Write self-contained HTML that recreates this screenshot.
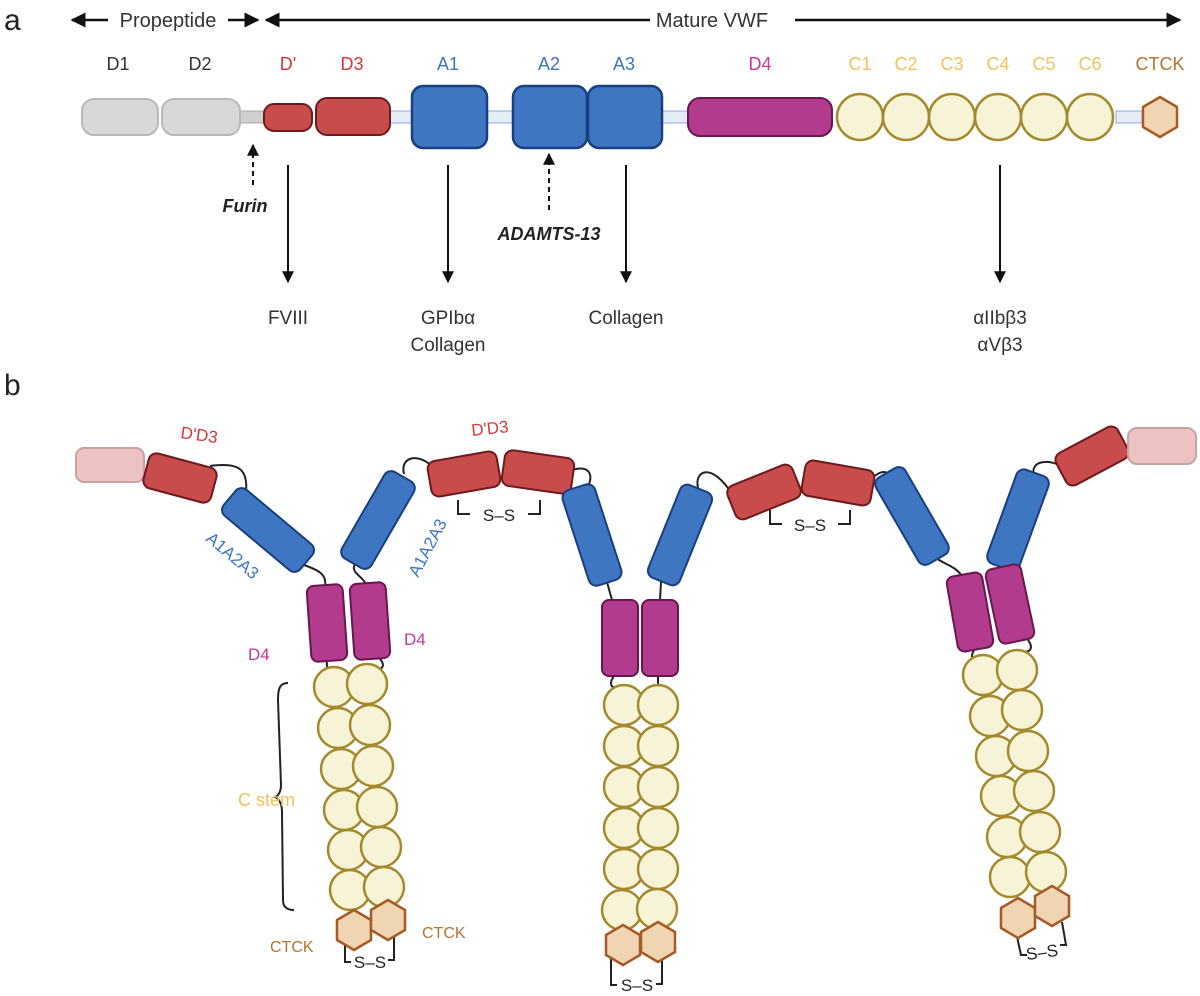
<!DOCTYPE html>
<html><head><meta charset="utf-8"><style>
html,body{margin:0;padding:0;background:#fff}
svg{display:block}
text{font-family:"Liberation Sans",sans-serif}
</style></head><body>
<svg width="1200" height="996" viewBox="0 0 1200 996" xmlns="http://www.w3.org/2000/svg">
<defs>
<marker id="ah" viewBox="0 0 10 10" refX="9" refY="5" markerWidth="6" markerHeight="6" orient="auto-start-reverse"><path d="M0,0L10,5L0,10z" fill="#111"/></marker>
<g id="circ"><circle r="20" fill="#f6f3d6" stroke="#a48a2c" stroke-width="2.5"/></g>
<g id="hex"><polygon points="0,-20 17,-10 17,10 0,20 -17,10 -17,-10" fill="#f0d5b3" stroke="#a85a24" stroke-width="2.5"/></g>
<g id="red"><rect x="-35" y="-18" width="70" height="36" rx="8" fill="#c94c4c" stroke="#6e1a1a" stroke-width="2"/></g>
<g id="blue"><rect x="-50" y="-17" width="100" height="34" rx="8" fill="#3e76c2" stroke="#183f80" stroke-width="2"/></g>
<g id="pur"><rect x="-18" y="-38" width="36" height="76" rx="7" fill="#b33b8e" stroke="#6a1650" stroke-width="2"/></g>
</defs>

<text x="4" y="30" font-size="30" fill="#222">a</text>
<line x1="108" y1="20" x2="72" y2="20" stroke="#111" stroke-width="2.5" marker-end="url(#ah)"/>
<text x="168" y="27" font-size="20" fill="#333" text-anchor="middle">Propeptide</text>
<line x1="228" y1="20" x2="258" y2="20" stroke="#111" stroke-width="2.5" marker-end="url(#ah)"/>
<line x1="650" y1="20" x2="266" y2="20" stroke="#111" stroke-width="2.5" marker-end="url(#ah)"/>
<text x="712" y="27" font-size="20" fill="#333" text-anchor="middle">Mature VWF</text>
<line x1="795" y1="20" x2="1180" y2="20" stroke="#111" stroke-width="2.5" marker-end="url(#ah)"/>

<g font-size="18" text-anchor="middle">
<text x="118" y="70" fill="#333">D1</text><text x="200" y="70" fill="#333">D2</text>
<text x="288" y="70" fill="#d23a3a">D'</text><text x="352" y="70" fill="#d23a3a">D3</text>
<text x="448" y="70" fill="#3d75c4">A1</text><text x="549" y="70" fill="#3d75c4">A2</text><text x="624" y="70" fill="#3d75c4">A3</text>
<text x="760" y="70" fill="#c23b9a">D4</text>
<text x="860" y="70" fill="#f0c35c">C1</text><text x="906" y="70" fill="#f0c35c">C2</text><text x="952" y="70" fill="#f0c35c">C3</text><text x="998" y="70" fill="#f0c35c">C4</text><text x="1044" y="70" fill="#f0c35c">C5</text><text x="1090" y="70" fill="#f0c35c">C6</text>
<text x="1160" y="70" fill="#b8722e">CTCK</text>
</g>

<rect x="238" y="111" width="28" height="12" fill="#cfcfcf" stroke="#aaa"/>
<rect x="388" y="111" width="26" height="12" fill="#e4ecf8" stroke="#8ea8d8"/>
<rect x="485" y="111" width="30" height="12" fill="#e4ecf8" stroke="#8ea8d8"/>
<rect x="660" y="111" width="30" height="12" fill="#e4ecf8" stroke="#8ea8d8"/>
<rect x="1116" y="111" width="26" height="12" fill="#e4ecf8" stroke="#8ea8d8"/>
<rect x="82" y="99" width="76" height="36" rx="12" fill="#d8d8d8" stroke="#b8b8b8" stroke-width="2"/>
<rect x="162" y="99" width="78" height="36" rx="12" fill="#d8d8d8" stroke="#b8b8b8" stroke-width="2"/>
<rect x="264" y="104" width="48" height="27" rx="10" fill="#c94c4c" stroke="#6e1a1a" stroke-width="2"/>
<rect x="316" y="98" width="74" height="37" rx="11" fill="#c94c4c" stroke="#6e1a1a" stroke-width="2"/>
<rect x="412" y="86" width="75" height="62" rx="11" fill="#3e76c2" stroke="#183f80" stroke-width="2.5"/>
<rect x="513" y="86" width="74" height="62" rx="11" fill="#3e76c2" stroke="#183f80" stroke-width="2.5"/>
<rect x="588" y="86" width="74" height="62" rx="11" fill="#3e76c2" stroke="#183f80" stroke-width="2.5"/>
<rect x="688" y="98" width="144" height="38" rx="12" fill="#b33b8e" stroke="#6a1650" stroke-width="2"/>
<circle cx="860" cy="117" r="23" fill="#f6f3d6" stroke="#a48a2c" stroke-width="2.5"/>
<circle cx="906" cy="117" r="23" fill="#f6f3d6" stroke="#a48a2c" stroke-width="2.5"/>
<circle cx="952" cy="117" r="23" fill="#f6f3d6" stroke="#a48a2c" stroke-width="2.5"/>
<circle cx="998" cy="117" r="23" fill="#f6f3d6" stroke="#a48a2c" stroke-width="2.5"/>
<circle cx="1044" cy="117" r="23" fill="#f6f3d6" stroke="#a48a2c" stroke-width="2.5"/>
<circle cx="1090" cy="117" r="23" fill="#f6f3d6" stroke="#a48a2c" stroke-width="2.5"/>
<use href="#hex" x="1160" y="117"/>

<line x1="253" y1="185" x2="253" y2="145" stroke="#111" stroke-width="2" stroke-dasharray="5,4" marker-end="url(#ah)"/>
<text x="245" y="212" font-size="18" font-weight="bold" font-style="italic" fill="#222" text-anchor="middle">Furin</text>
<line x1="288" y1="165" x2="288" y2="282" stroke="#111" stroke-width="2" marker-end="url(#ah)"/>
<text x="288" y="324" font-size="19" fill="#333" text-anchor="middle">FVIII</text>
<line x1="448" y1="165" x2="448" y2="282" stroke="#111" stroke-width="2" marker-end="url(#ah)"/>
<text x="448" y="324" font-size="19" fill="#333" text-anchor="middle">GPIbα</text>
<text x="448" y="351" font-size="19" fill="#333" text-anchor="middle">Collagen</text>
<line x1="549" y1="210" x2="549" y2="154" stroke="#111" stroke-width="2" stroke-dasharray="5,4" marker-end="url(#ah)"/>
<text x="549" y="240" font-size="18" font-weight="bold" font-style="italic" fill="#222" text-anchor="middle">ADAMTS-13</text>
<line x1="626" y1="165" x2="626" y2="282" stroke="#111" stroke-width="2" marker-end="url(#ah)"/>
<text x="626" y="324" font-size="19" fill="#333" text-anchor="middle">Collagen</text>
<line x1="1000" y1="165" x2="1000" y2="282" stroke="#111" stroke-width="2" marker-end="url(#ah)"/>
<text x="1000" y="324" font-size="19" fill="#333" text-anchor="middle">αIIbβ3</text>
<text x="1000" y="351" font-size="19" fill="#333" text-anchor="middle">αVβ3</text>

<text x="4" y="395" font-size="30" fill="#222">b</text>
<g fill="none" stroke="#222" stroke-width="2">
<path d="M210,466 C240,462 248,470 246,492"/>
<path d="M304,565 C318,570 327,574 325,586"/>
<path d="M355,564 C350,572 362,576 366,584"/>
<path d="M404,474 C400,458 416,452 432,466"/>
<path d="M572,470 C592,464 594,478 586,490"/>
<path d="M698,488 C694,470 712,462 732,494"/>
<path d="M872,478 C884,468 890,472 888,480"/>
<path d="M1034,476 C1030,462 1045,458 1062,466"/>
<path d="M607,582 L612,600"/><path d="M661,582 L660,600"/>
<path d="M936,558 C946,565 955,566 962,576"/>
<path d="M1002,560 C998,566 1000,570 1003,568"/>
<path d="M327,660 C326,672 330,676 334,668"/>
<path d="M380,659 C388,668 378,672 370,668"/>
<path d="M614,676 C608,684 612,690 618,686"/><path d="M658,676 L658,686"/>
<path d="M974,650 C970,658 972,660 978,657"/><path d="M1028,640 C1034,648 1030,652 1024,652"/>
<path d="M458,500 L458,514 L470,514"/><path d="M540,500 L540,514 L528,514"/>
<path d="M770,510 L770,524 L782,524"/><path d="M850,510 L850,524 L838,524"/>
<path d="M345,942 L345,962 L351,962"/><path d="M394,935 L394,960 L388,960"/>
<path d="M611,958 L611,985 L617,985"/><path d="M662,956 L662,984 L656,984"/>
<path d="M1016,932 L1021,955 L1027,955"/><path d="M1062,922 L1066,945 L1060,945"/>
<path d="M288,683 C280,683 278,688 278,700 L281,785 C281,792 278,796 275,797 C279,799 282,803 282,812 L283,900 C283,906 286,910 294,910"/>
</g>
<text x="499" y="521" font-size="17" fill="#222" text-anchor="middle">S–S</text>
<text x="810" y="531" font-size="17" fill="#222" text-anchor="middle">S–S</text>
<text x="370" y="968" font-size="17" fill="#222" text-anchor="middle">S–S</text>
<text x="637" y="991" font-size="17" fill="#222" text-anchor="middle">S–S</text>
<text x="1042" y="958" font-size="17" fill="#222" text-anchor="middle" transform="rotate(-8 1042 952)">S–S</text>

<!-- left molecule -->
<rect x="76" y="448" width="68" height="34" rx="8" fill="#ecc2c2" stroke="#c9a3a3" stroke-width="2"/>
<use href="#red" transform="translate(180,478) rotate(15)"/>
<use href="#blue" transform="translate(268,530) rotate(40)"/>
<use href="#blue" transform="translate(378,520) rotate(-60)"/>
<use href="#red" transform="translate(464,474) rotate(-10)"/>
<use href="#red" transform="translate(538,472) rotate(8)"/>
<use href="#pur" transform="translate(327,623) rotate(-4)"/>
<use href="#pur" transform="translate(370,621) rotate(-4)"/>
<text x="180" y="438" font-size="17" fill="#d23a3a" transform="rotate(8 180 438)">D'D3</text>
<text x="472" y="436" font-size="17" fill="#d23a3a" transform="rotate(-6 472 436)">D'D3</text>
<text x="205" y="540" font-size="17" fill="#3d75c4" transform="rotate(40 205 540)">A1A2A3</text>
<text x="418" y="578" font-size="17" fill="#3d75c4" transform="rotate(-62 418 578)">A1A2A3</text>
<text x="248" y="660" font-size="17" fill="#c23b9a">D4</text>
<text x="404" y="645" font-size="17" fill="#c23b9a">D4</text>
<text x="238" y="806" font-size="18" fill="#f0c35c">C stem</text>
<text x="270" y="952" font-size="16" fill="#b8722e">CTCK</text>
<text x="422" y="938" font-size="16" fill="#b8722e">CTCK</text>
<use href="#circ" x="334" y="687"/><use href="#circ" x="367" y="684"/>
<use href="#circ" x="338" y="728"/><use href="#circ" x="370" y="725"/>
<use href="#circ" x="341" y="769"/><use href="#circ" x="373" y="766"/>
<use href="#circ" x="344" y="810"/><use href="#circ" x="377" y="807"/>
<use href="#circ" x="348" y="850"/><use href="#circ" x="381" y="847"/>
<use href="#circ" x="350" y="890"/><use href="#circ" x="384" y="887"/>
<use href="#hex" x="354" y="930"/><use href="#hex" x="388" y="920"/>

<!-- middle -->
<use href="#blue" transform="translate(592,535) rotate(72)"/>
<use href="#blue" transform="translate(680,535) rotate(-68)"/>
<use href="#pur" transform="translate(620,638)"/>
<use href="#pur" transform="translate(660,638)"/>
<use href="#circ" x="624" y="705"/><use href="#circ" x="658" y="705"/>
<use href="#circ" x="624" y="746"/><use href="#circ" x="658" y="746"/>
<use href="#circ" x="624" y="787"/><use href="#circ" x="658" y="787"/>
<use href="#circ" x="624" y="828"/><use href="#circ" x="658" y="828"/>
<use href="#circ" x="624" y="869"/><use href="#circ" x="658" y="869"/>
<use href="#circ" x="622" y="910"/><use href="#circ" x="657" y="909"/>
<use href="#hex" x="623" y="945"/><use href="#hex" x="658" y="942"/>

<!-- right -->
<use href="#red" transform="translate(764,492) rotate(-22)"/>
<use href="#red" transform="translate(838,483) rotate(10)"/>
<use href="#blue" transform="translate(912,516) rotate(60)"/>
<use href="#blue" transform="translate(1018,520) rotate(-70)"/>
<use href="#red" transform="translate(1092,456) rotate(-28)"/>
<rect x="1128" y="428" width="68" height="36" rx="9" fill="#ecc2c2" stroke="#c9a3a3" stroke-width="2"/>
<use href="#pur" transform="translate(970,612) rotate(-10)"/>
<use href="#pur" transform="translate(1010,604) rotate(-12)"/>
<use href="#circ" x="983" y="675"/><use href="#circ" x="1017" y="670"/>
<use href="#circ" x="990" y="716"/><use href="#circ" x="1022" y="710"/>
<use href="#circ" x="996" y="756"/><use href="#circ" x="1028" y="751"/>
<use href="#circ" x="1001" y="796"/><use href="#circ" x="1034" y="791"/>
<use href="#circ" x="1007" y="837"/><use href="#circ" x="1040" y="832"/>
<use href="#circ" x="1010" y="877"/><use href="#circ" x="1046" y="872"/>
<use href="#hex" x="1018" y="918"/><use href="#hex" x="1052" y="906"/>
</svg>
</body></html>
